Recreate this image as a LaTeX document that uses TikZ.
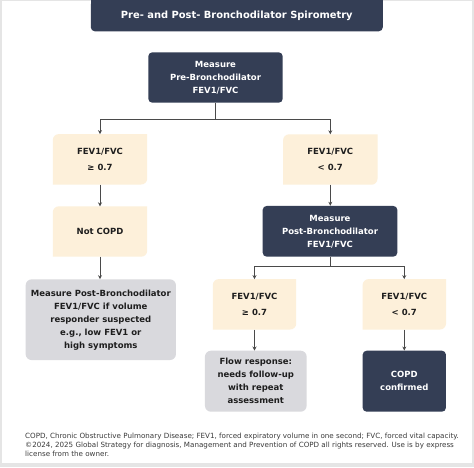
\documentclass[tikz,border=0pt]{standalone}
\usepackage{fontspec}
\setmainfont{DejaVu Sans}
\usetikzlibrary{arrows.meta,backgrounds,calc}
\definecolor{navy}{HTML}{343E55}
\definecolor{cream}{HTML}{FDF0DA}
\definecolor{graybox}{HTML}{D9D9DD}
\definecolor{linec}{HTML}{4A4A4A}
\definecolor{framec}{HTML}{E5E5E5}
\definecolor{txt}{HTML}{1E1E1E}
\definecolor{foot}{HTML}{3A3A3A}
\newcommand\creamleaf[1]{\fill[cream] (#1.south west) -- ($(#1.north west)+(0,6)$) arc[start angle=180,end angle=90,radius=6pt] -- (#1.north east) -- ($(#1.south east)+(0,-6)$) arc[start angle=0,end angle=-90,radius=6pt] -- cycle;}
\begin{document}
\begin{tikzpicture}[x=1pt,y=-1pt,
 base/.style={align=center, inner sep=0pt, font=\fontsize{8.5}{13}\selectfont\bfseries},
 navybox/.style={base, fill=navy, text=white, rounded corners=4pt},
 creambox/.style={base, text=txt, minimum width=94pt, minimum height=50pt},
 creamsm/.style={base, text=txt, minimum width=83pt, minimum height=50pt},
 graybx/.style={base, fill=graybox, text=txt, rounded corners=6pt},
 arr/.style={draw=linec, line width=1pt, -{Stealth[length=4pt,width=4pt]}}]
\begin{scope}[on background layer]
\fill[framec] (0,0) rectangle (474,467);
\fill[white] (2,1) rectangle (472,463);
\end{scope}
\useasboundingbox (0,0) rectangle (474,467);

\node[navybox, minimum width=292pt, minimum height=31pt, font=\fontsize{9.9}{12}\selectfont\bfseries] (title) at (236.8,15.8) {Pre- and Post- Bronchodilator Spirometry};
\node[navybox, minimum width=134.4pt, minimum height=50.4pt] (pre) at (215.5,77.5) {Measure\\Pre-Bronchodilator\\FEV1/FVC};
\node[creambox] (y1) at (100,159.3) {FEV1/FVC\\[3pt]≥ 0.7};
\node[creambox] (y2) at (330.3,159.5) {FEV1/FVC\\[3pt]< 0.7};
\node[creambox] (notc) at (100,231.5) {Not COPD};
\node[navybox, minimum width=134.7pt, minimum height=50.7pt] (post) at (330,231.3) {Measure\\Post-Bronchodilator\\FEV1/FVC};
\node[graybx, minimum width=150.3pt, minimum height=80.7pt] (vol) at (100.8,319.7) {Measure Post-Bronchodilator\\FEV1/FVC if volume\\responder suspected\\e.g., low FEV1 or\\high symptoms};
\node[creamsm] (y3) at (254.5,304.3) {FEV1/FVC\\[3pt]≥ 0.7};
\node[creamsm] (y4) at (404.3,304.3) {FEV1/FVC\\[3pt]< 0.7};
\node[graybx, minimum width=101.7pt, minimum height=61pt] (flow) at (255.8,381.2) {Flow response:\\needs follow-up\\with repeat\\assessment};
\node[navybox, minimum width=83.3pt, minimum height=61pt] (conf) at (404.3,381.2) {COPD\\confirmed};

\node[anchor=north west, inner sep=0pt, align=left, text=foot, font=\fontsize{7.15}{8.9}\selectfont] (note) at (25,432.6) {COPD, Chronic Obstructive Pulmonary Disease; FEV1, forced expiratory volume in one second; FVC, forced vital capacity.\\©2024, 2025 Global Strategy for diagnosis, Management and Prevention of COPD all rights reserved. Use is by express\\license from the owner.};

\begin{scope}[on background layer]
\fill[navy] (title.north west) rectangle (title.east);
\creamleaf{y1}
\creamleaf{y2}
\creamleaf{notc}
\creamleaf{y3}
\creamleaf{y4}
\end{scope}

\draw[arr] (pre.south) -- ++(0,16.5) -| (y1.north);
\draw[arr] (pre.south) -- ++(0,16.5) -| (y2.north);
\draw[arr] (y1.south) -- (notc.north);
\draw[arr] (notc.south) -- (notc.south |- vol.north);
\draw[arr] (y2.south) -- (y2.south |- post.north);
\draw[arr] (post.south) -- ++(0,10) -| (y3.north);
\draw[arr] (post.south) -- ++(0,10) -| (y4.north);
\draw[arr] (y3.south) -- (y3.south |- flow.north);
\draw[arr] (y4.south) -- (conf.north);
\end{tikzpicture}
\end{document}
